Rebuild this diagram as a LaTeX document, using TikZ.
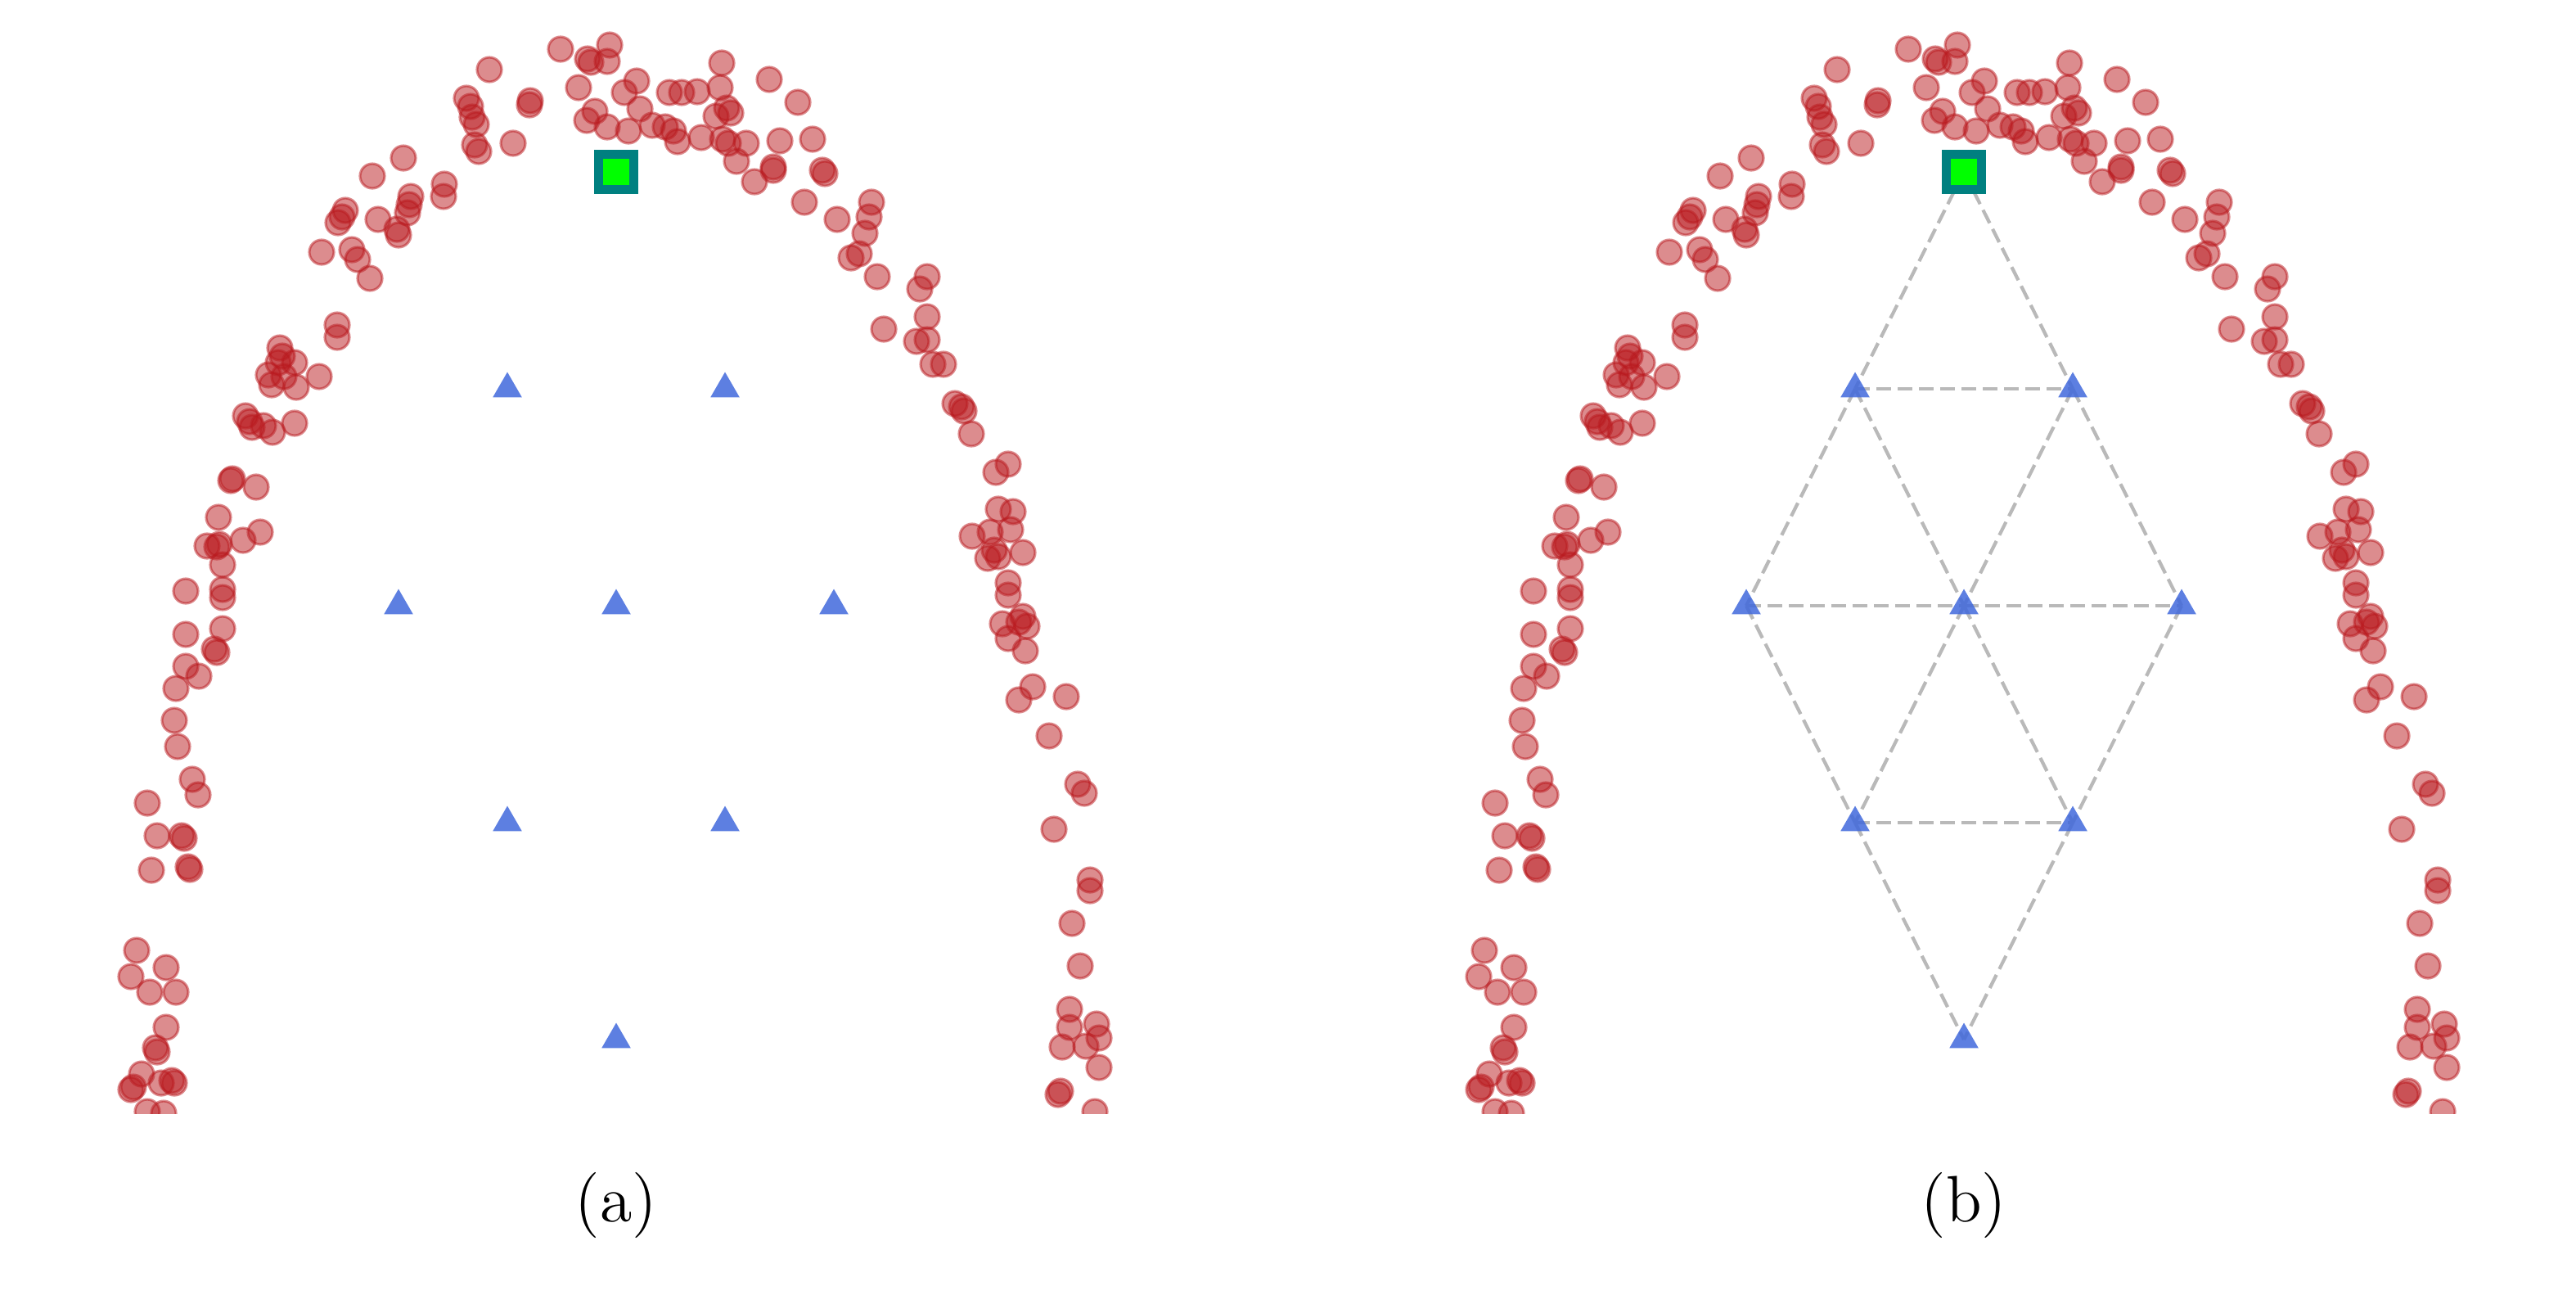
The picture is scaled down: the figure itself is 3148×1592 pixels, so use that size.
\documentclass[tikz,border=0pt]{standalone}
\usetikzlibrary{shapes.geometric,backgrounds}

\definecolor{samplered}{RGB}{185,25,30}
\definecolor{gridblue}{RGB}{65,105,220}
\definecolor{goalteal}{RGB}{0,128,128}
\definecolor{goalgreen}{RGB}{0,255,0}
\definecolor{linkgray}{RGB}{185,185,185}

\def\latx{133}
\def\laty{265}
\def\panelshift{1647}
\def\samplepoints{685/60, 718/72, 722/76, 745/55, 742/75, 707/107, 778/99, 763/113, 782/133, 727/136, 717/147, 742/155, 768/160, 797/153,
598/85, 570/120, 575/130, 577/143, 582/152, 580/177, 585/185, 648/123, 647/128, 627/175,
493/193, 455/215, 543/225, 542/240, 502/240, 500/250, 498/260, 462/268, 487/287, 485/280, 422/257, 418/265, 413/272, 393/308, 430/305, 437/317, 452/340,
882/77, 880/107, 852/112, 833/113, 818/113, 893/138, 875/142, 888/132, 940/97, 975/125, 813/155, 823/160, 828/173, 857/168, 883/170, 890/175, 912/175, 953/172, 993/170, 900/197, 945/208, 945/204, 922/222, 1005/208, 1008/212, 983/247, 1023/268, 1065/247, 1062/265, 1057/285, 1040/315, 1072/338, 1133/338, 1124/353,
1050/310, 1133/387, 1080/402, 1120/417, 1133/415, 1140/445, 1153/445, 1167/493, 1175/497, 1178/502, 1187/530, 1217/577, 1232/567, 1220/622, 1238/625, 1188/655, 1210/650, 1235/647, 1207/682, 1220/680, 1215/672, 1250/675, 1232/712, 1232/727, 1225/762, 1250/753, 1245/760, 1255/765, 1232/780, 1253/795,
1262/839, 1245/855, 1303/851, 1282/899, 1317/958, 1325/969, 1288/1013, 1332/1075, 1332/1088, 1310/1128, 1320/1180, 1307/1233, 1307/1255, 1298/1279, 1340/1251, 1343/1268, 1327/1278, 1343/1304, 1293/1337, 1296/1333, 1338/1358,
412/397, 412/412, 342/425, 345/435, 340/443, 360/443, 328/458, 347/460, 362/473, 332/470, 390/460, 300/508, 305/515, 308/522, 322/520, 333/528, 360/517, 282/587, 284/585, 313/595, 267/632, 318/650, 297/660, 253/667, 268/665, 265/668, 272/690, 227/722, 272/720, 272/730, 272/768, 227/775, 262/793, 265/797,
227/814, 243/826, 215/841, 213/880, 217/912, 235/952, 242/971, 180/981, 192/1021, 222/1021, 225/1024, 230/1059, 232/1062, 185/1063, 167/1161, 160/1193, 203/1182, 183/1212, 215/1212, 203/1255, 192/1285, 190/1280, 173/1312, 160/1331, 163/1328, 213/1323, 210/1320, 197/1323, 180/1358, 200/1360}

\begin{document}
\begin{tikzpicture}[x=0.05mm,y=-0.05mm]
	\tikzstyle{sample}=[circle,minimum size=1.5mm,inner sep=0pt,fill=samplered,draw=samplered,line width=0.45pt,fill opacity=0.5,draw opacity=0.5]
	\tikzstyle{grid point}=[regular polygon,regular polygon sides=3,minimum size=2.05mm,inner sep=0pt,fill=gridblue,fill opacity=0.85]
	\tikzstyle{goal}=[rectangle,minimum size=2.15mm,inner sep=0pt,fill=goalgreen,draw=goalteal,line width=1.5pt]
	\tikzstyle{link}=[draw=linkgray,line width=0.6pt,dash pattern=on 0.9mm off 0.4mm]
	\tikzstyle{caption}=[font=\fontsize{11.4}{14}\selectfont]

	\useasboundingbox (0,0) rectangle (3148,1592);

	% Panel (a): samples, triangle grid and goal
	\begin{scope}
	\clip (100,0) rectangle (1420,1360);
	\foreach \x/\y [count=\i] in \samplepoints
	\node[sample] (a-\i) at (\x,\y) {};
	\end{scope}
	\foreach \name / \gx / \gy in {1/-1/1, 2/1/1, 3/-2/0, 4/0/0, 5/2/0, 6/-1/-1, 7/1/-1, 8/0/-2}
	\node[grid point] (a-G-\name) at ({753+\gx*\latx},{740-\gy*\laty}) {};
	\node[goal] (a-G-0) at (753,{740-2*\laty}) {};
	\node[caption] (a-cap) at (753,1472) {(a)};

	% Panel (b): the same, with the grid links
	\begin{scope}[shift={(\panelshift,0)}]
	\begin{scope}
	\clip (100,0) rectangle (1420,1360);
	\foreach \x/\y [count=\i] in \samplepoints
	\node[sample] (b-\i) at (\x,\y) {};
	\end{scope}
	\foreach \name / \gx / \gy in {1/-1/1, 2/1/1, 3/-2/0, 4/0/0, 5/2/0, 6/-1/-1, 7/1/-1, 8/0/-2}
	\node[grid point] (b-G-\name) at ({753+\gx*\latx},{740-\gy*\laty}) {};
	\node[goal] (b-G-0) at (753,{740-2*\laty}) {};
	\node[caption] (b-cap) at (753,1472) {(b)};

	% Connect neighbouring grid points
	\begin{pgfonlayer}{background}
	\foreach \source / \dest in {0/1, 0/2, 1/2, 1/3, 1/4, 2/4, 2/5, 3/4, 4/5, 3/6, 4/6, 4/7, 5/7, 6/7, 6/8, 7/8}
	\path[link] (b-G-\source.center) -- (b-G-\dest.center);
	\end{pgfonlayer}
	\end{scope}
\end{tikzpicture}
\end{document}
